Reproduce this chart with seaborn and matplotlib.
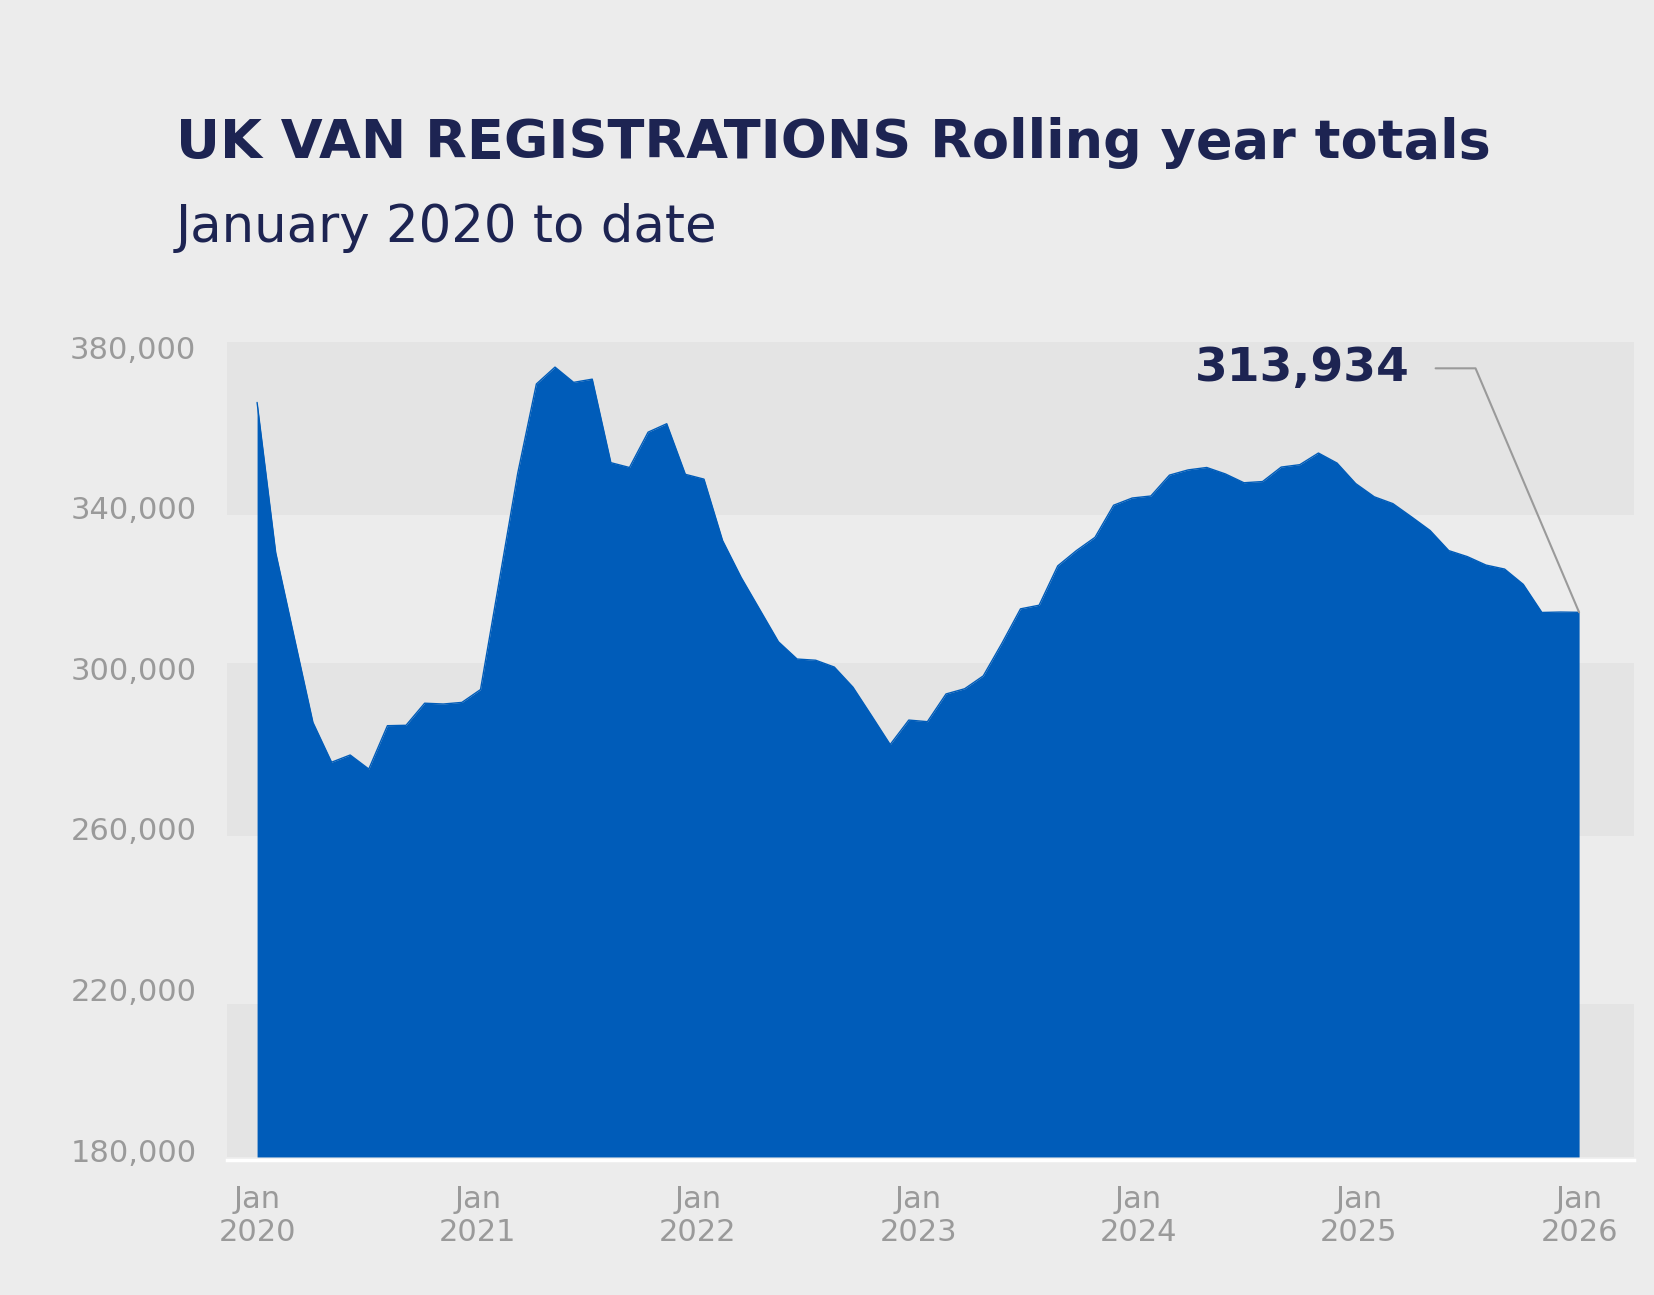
import matplotlib
matplotlib.use("Agg")
import numpy as np
import pandas as pd
import seaborn as sns
from matplotlib import pyplot as plt

# rolling 12-month van registrations, Jan 2020 .. Dec 2025
totals = [
    366200, 328800, 307600, 286500, 276600, 278400, 274900, 285700, 285800, 291300, 291100, 291500,
    294700, 321600, 348600, 370800, 375000, 371200, 372000, 351200, 350000, 358800, 360900, 348300,
    347100, 331800, 322600, 314600, 306600, 302300, 302000, 300300, 295300, 288200, 281000, 287100,
    286700, 293600, 294900, 298100, 306200, 314800, 315700, 325500, 329300, 332600, 340600, 342400,
    342900, 348100, 349400, 350000, 348400, 346200, 346500, 350100, 350700, 353600, 351100, 346000,
    342700, 341000, 337700, 334300, 329300, 327800, 325700, 324700, 320900, 313900, 314000, 313934,
]
# the series is drawn stretched from the Jan 2020 tick to the Jan 2026 tick
plot_dates = pd.date_range("2020-01-01", "2026-01-01", periods=len(totals))

years = list(range(2020, 2027))
year_ticks = pd.to_datetime([f"{y}-01-01" for y in years])
half_ticks = pd.to_datetime([f"{y}-07-01" for y in years[:-1]])
x_labels = [f"Jan\n{y}" for y in years]
y_ticks = [180000, 220000, 260000, 300000, 340000, 380000]
y_range = (178300, 381250)
bands = [(338200, 381250), (258200, 301300), (178300, 216400)]

title = "UK VAN REGISTRATIONS Rolling year totals"
subtitle = "January 2020 to date"

BG = "#ececec"
BAND = "#e4e4e4"
BLUE = "#005cb9"
NAVY = "#1d2452"
GREY = "#9a9a9a"

sns.set_style("white")
plt.rcParams["font.family"] = ["DejaVu Sans"]

fig = plt.figure(figsize=(16.54, 12.95), dpi=100, facecolor=BG)
ax = fig.add_axes([0.1372, 0.1066, 0.8507, 0.6293])
ax.set_facecolor(BG)

for lo, hi in bands:
    ax.axhspan(lo, hi, color=BAND, lw=0, zorder=0)

ax.fill_between(plot_dates, y_range[0], totals, color=BLUE, lw=0, zorder=2)
sns.lineplot(x=plot_dates, y=totals, ax=ax, color=BLUE, lw=1, zorder=3)

ax.set_xlim(pd.Timestamp("2019-11-12"), pd.Timestamp("2026-04-02"))
ax.set_ylim(*y_range)

ax.set_xticks(year_ticks)
ax.set_xticks(half_ticks, minor=True)
ax.tick_params(axis="x", which="both", colors="white", length=14, width=2,
               labelcolor=GREY, labelsize=22, pad=4)
ax.set_xticklabels(x_labels, linespacing=1.9)

ax.set_yticks(y_ticks)
ax.set_yticklabels([f"{v:,}" for v in y_ticks])
ax.tick_params(axis="y", length=0, labelcolor=GREY, labelsize=22, pad=22)

for side in ["top", "left", "right"]:
    ax.spines[side].set_visible(False)
ax.spines["bottom"].set_color("white")
ax.spines["bottom"].set_linewidth(2.5)
ax.spines["bottom"].set_position(("outward", 2))
ax.set_xlabel("")
ax.set_ylabel("")
ax.grid(False)

ax.annotate(f"{totals[-1]:,}", xy=(plot_dates[-1], totals[-1]),
            xytext=(-169, 244), textcoords="offset pixels",
            ha="right", va="center", fontsize=34, fontweight="bold", color=NAVY,
            arrowprops=dict(arrowstyle="-", color=GREY, lw=1.5, shrinkA=16, shrinkB=0,
                            relpos=(1, 0.5),
                            connectionstyle="angle,angleA=0,angleB=113,rad=0"))

fig.text(0.1064, 0.878, title, fontsize=39, fontweight="bold", color=NAVY,
         ha="left", va="baseline")
fig.text(0.1064, 0.8131, subtitle, fontsize=37, color=NAVY, ha="left", va="baseline")

fig.savefig("out.png", dpi=100, facecolor=BG)
